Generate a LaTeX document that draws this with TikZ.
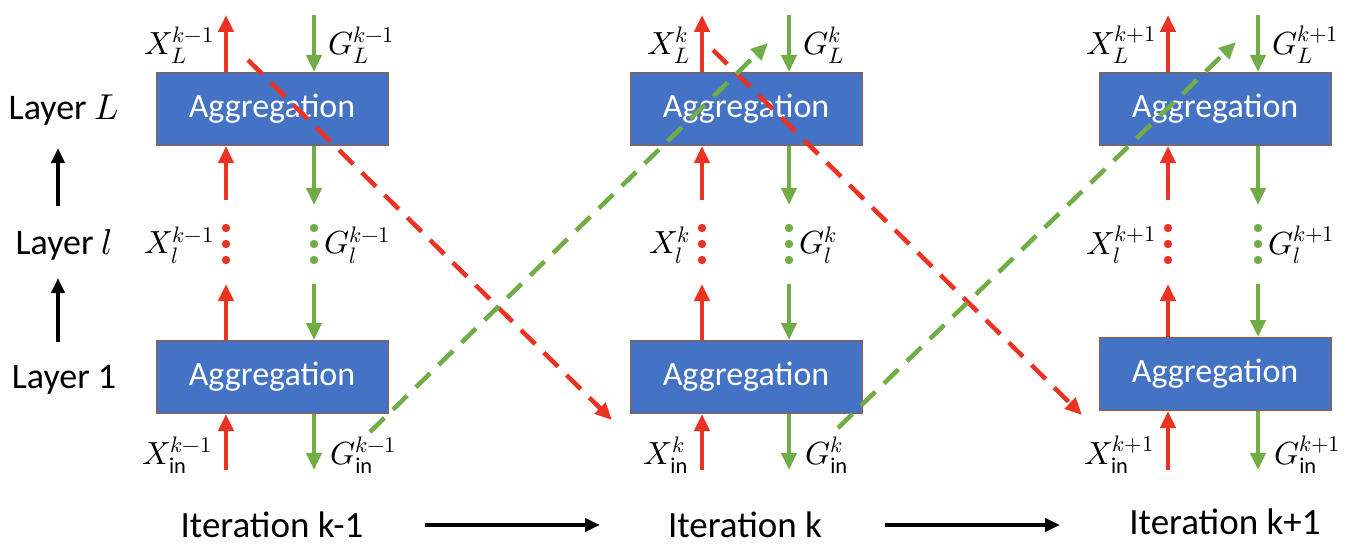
\documentclass[tikz,border=0pt]{standalone}
\usepackage{fontspec}
\usepackage{unicode-math}
\setmainfont{Carlito}
\setmathfont{Latin Modern Math}
\usetikzlibrary{arrows.meta}
\definecolor{myred}{RGB}{234,51,35}
\definecolor{mygreen}{RGB}{112,173,71}
\definecolor{myblue}{RGB}{68,114,196}
\definecolor{myborder}{RGB}{160,90,50}
\begin{document}
\begin{tikzpicture}[x=1pt,y=-1pt,
  agg/.style={draw=myborder,line width=1pt,fill=myblue,text=white,font=\fontsize{34}{36}\selectfont,minimum width=232pt,minimum height=73pt,inner sep=0pt},
  redar/.style={myred,line width=4.5pt,-{Triangle[width=15pt,length=17pt]}},
  grnar/.style={mygreen,line width=4.5pt,-{Triangle[width=15pt,length=17pt]}},
  reddash/.style={redar,dash pattern=on 20pt off 12pt},
  grndash/.style={grnar,dash pattern=on 20pt off 12pt},
  blkar/.style={black,line width=4pt,-{Triangle[width=13pt,length=15pt]}},
  lab/.style={font=\fontsize{32}{34}\selectfont,inner sep=0pt},
  txt/.style={font=\fontsize{36}{38}\selectfont,inner sep=0pt},
  itx/.style={font=\fontsize{37}{39}\selectfont,inner sep=0pt}]
\useasboundingbox (0,0) rectangle (1352,551);
\foreach \n/\bx/\rx/\gx/\by/\sup in {a/272/226/314/377/{k-1},b/746/702/789/377/k,c/1215/1168/1258/374/{k+1}}{
  \node[agg] (top\n) at (\bx,109) {Aggregation};
  \node[agg] (bot\n) at (\bx,\by) {Aggregation};
  \coordinate (rt\n) at (\rx,15);
  \coordinate (gt\n) at (\gx,15);
  \coordinate (rm1\n) at (\rx,200);
  \coordinate (gm1\n) at (\gx,205);
  \coordinate (rm2\n) at (\rx,284);
  \coordinate (gm2\n) at (\gx,284);
  \coordinate (rb\n) at (\rx,470);
  \coordinate (gb\n) at (\gx,470);
  \draw[redar] (rt\n |- top\n.north) -- (rt\n);
  \draw[grnar] (gt\n) -- (gt\n |- top\n.north);
  \draw[redar] (rm1\n) -- (rm1\n |- top\n.south);
  \draw[grnar] (gt\n |- top\n.south) -- (gm1\n);
  \draw[redar] (rt\n |- bot\n.north) -- (rm2\n);
  \draw[grnar] (gm2\n) -- (gt\n |- bot\n.north);
  \draw[redar] (rb\n) -- (rt\n |- bot\n.south);
  \draw[grnar] (gt\n |- bot\n.south) -- (gb\n);
  \foreach \yy in {228,244,260}{
    \fill[myred] (\rx,\yy) circle (4.2pt);
    \fill[mygreen] (\gx,\yy) circle (4.2pt);
  }
  \node[lab,anchor=east] (xL\n) at (\rx-12,45) {$X_L^{\sup}$};
  \node[lab,anchor=west] (gL\n) at (\gx+14,45) {$G_L^{\sup}$};
  \node[lab,anchor=east] (xl\n) at (\rx-12,245) {$X_l^{\sup}$};
  \node[lab,anchor=west] (gl\n) at (\gx+10,245) {$G_l^{\sup}$};
  \node[lab,anchor=east] (xi\n) at (\rx-14,455) {$X_{\mathrm{in}}^{\sup}$};
  \node[lab,anchor=west] (gi\n) at (\gx+16,455) {$G_{\mathrm{in}}^{\sup}$};
}
\coordinate (r1s) at (248,60); \coordinate (r1e) at (612,420);
\coordinate (r2s) at (713,50); \coordinate (r2e) at (1082,415);
\coordinate (g1s) at (370,432); \coordinate (g1e) at (768,43);
\coordinate (g2s) at (838,428); \coordinate (g2e) at (1236,42);
\draw[reddash] (r1s) -- (r1e);
\draw[reddash] (r2s) -- (r2e);
\draw[grndash] (g1s) -- (g1e);
\draw[grndash] (g2s) -- (g2e);
\node[txt] (LL) at (64,110) {Layer $L$};
\node[txt] (Ll) at (64,245) {Layer $l$};
\node[txt] (L1) at (64,380) {Layer 1};
\coordinate (u1) at (58,206); \coordinate (u2) at (58,148);
\coordinate (u3) at (58,342); \coordinate (u4) at (58,278);
\draw[blkar] (u1) -- (u2);
\draw[blkar] (u3) -- (u4);
\node[itx] (i1) at (272,525) {Iteration k-1};
\node[itx] (i2) at (745,525) {Iteration k};
\node[itx] (i3) at (1225,522) {Iteration k+1};
\coordinate (h1) at (425,525); \coordinate (h2) at (600,525);
\coordinate (h3) at (885,525); \coordinate (h4) at (1060,525);
\draw[blkar] (h1) -- (h2);
\draw[blkar] (h3) -- (h4);
\end{tikzpicture}
\end{document}
